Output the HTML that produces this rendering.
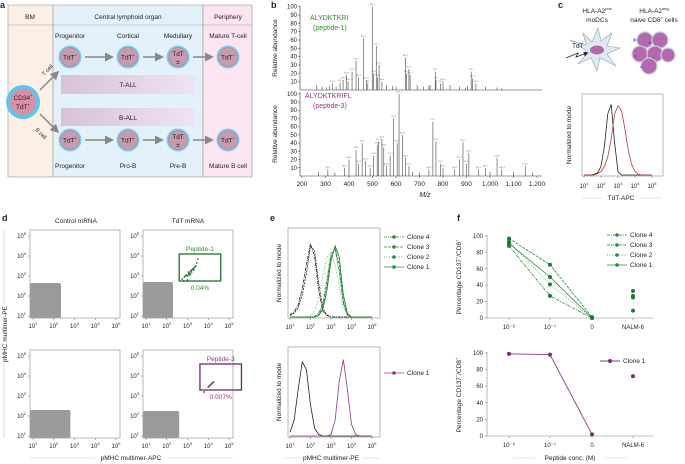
<!DOCTYPE html>
<html><head><meta charset="utf-8"><style>
html,body{margin:0;padding:0;background:#fff;}
svg{display:block;font-family:"Liberation Sans",Arial,sans-serif;}
</style></head><body>
<svg id="fig" width="685" height="464" viewBox="0 0 685 464" xmlns="http://www.w3.org/2000/svg">
<defs>
<linearGradient id="band" x1="0" x2="1" y1="0" y2="0"><stop offset="0" stop-color="#d6c2da"/><stop offset="1" stop-color="#eee4f2"/></linearGradient>
<marker id="ah" markerWidth="6" markerHeight="6" refX="4" refY="3" orient="auto"><path d="M0,0 L6,3 L0,6 z" fill="#888"/></marker>
<marker id="ahk" markerWidth="6" markerHeight="6" refX="4" refY="3" orient="auto"><path d="M0,0 L6,3 L0,6 z" fill="#222"/></marker>
</defs>

<!-- Panel a -->
<g font-size="6.5" fill="#222">
<text x="0" y="8" font-size="9" font-weight="bold">a</text>
<rect x="8" y="5" width="45" height="172" fill="#fcefe5" stroke="#999" stroke-width="0.6"/>
<rect x="53" y="5" width="150" height="172" fill="#e3f1fb" stroke="#999" stroke-width="0.6"/>
<rect x="203" y="5" width="49" height="172" fill="#fbe5f0" stroke="#999" stroke-width="0.6"/>
<line x1="8" y1="25" x2="252" y2="25" stroke="#999" stroke-width="0.6"/>
<text x="30" y="19" text-anchor="middle">BM</text>
<text x="128" y="19" text-anchor="middle">Central lymphoid organ</text>
<text x="228" y="19" text-anchor="middle">Periphery</text>
<rect x="61" y="75" width="134" height="19" fill="url(#band)"/>
<text x="128" y="87" text-anchor="middle">T-ALL</text>
<rect x="61" y="108" width="134" height="18" fill="url(#band)"/>
<text x="128" y="120" text-anchor="middle">B-ALL</text>
<g>
<circle cx="23" cy="102" r="17" fill="#5fc3ea"/><circle cx="23" cy="102" r="13" fill="#d98fa6"/>
<text x="23" y="100" text-anchor="middle">CD34<tspan font-size="4" dy="-3">+</tspan></text>
<text x="23" y="109" text-anchor="middle">TdT<tspan font-size="4" dy="-3">+</tspan></text>
</g>
<line x1="40" y1="90" x2="57" y2="73" stroke="#888" stroke-width="1.5" marker-end="url(#ah)"/>
<line x1="40" y1="114" x2="57" y2="131" stroke="#888" stroke-width="1.5" marker-end="url(#ah)"/>
<text x="44" y="76" font-size="5.5" transform="rotate(-45 44 76)">T cell</text>
<text x="35" y="130" font-size="5.5" transform="rotate(45 35 130)">B cell</text>
<g id="cells"></g>
</g>

<!-- Panel b -->
<g font-size="6" fill="#222">
<text x="271" y="8" font-size="9" font-weight="bold">b</text>
<text x="310" y="20" font-size="7" fill="#2e8b2e">ALYDKTKRI</text>
<text x="313" y="30" font-size="7" fill="#2e8b2e">(peptide-1)</text>
<text x="305" y="98" font-size="7" fill="#8a3a86">ALYDKTKRIFL</text>
<text x="313" y="108" font-size="7" fill="#8a3a86">(peptide-3)</text>
<text x="277" y="48" font-size="6.5" text-anchor="middle" transform="rotate(-90 277 48)">Relative abundance</text>
<text x="277" y="134" font-size="6.5" text-anchor="middle" transform="rotate(-90 277 134)">Relative abundance</text>
<text x="425" y="197" font-size="7" font-style="italic" text-anchor="middle">M/z</text>
<g id="specB"></g>
</g>

<!-- Panel c -->
<g font-size="6" fill="#222">
<text x="558" y="8" font-size="9" font-weight="bold">c</text>
<text x="597" y="13" text-anchor="middle" font-size="6.5">HLA-A2<tspan font-size="4" dy="-3">pos</tspan></text>
<text x="597" y="22" text-anchor="middle" font-size="6.5">moDCs</text>
<text x="654" y="13" text-anchor="middle" font-size="6.5">HLA-A2<tspan font-size="4" dy="-3">neg</tspan></text>
<text x="654" y="22" text-anchor="middle" font-size="6.5">naive CD8<tspan font-size="4" dy="-3">+</tspan><tspan dy="3"> cells</tspan></text>
<g>
<path d="M585,50 L570,40 L586,45 L583,33 L592,42 L598,28 L601,41 L612,33 L607,46 L620,48 L607,54 L616,66 L600,58 L597,71 L591,58 L578,64 L587,54 z" fill="#dde8f0" stroke="#8fa3b5" stroke-width="0.6"/>
<ellipse cx="597" cy="50" rx="7" ry="4.5" fill="#b267ae"/>
</g>
<text x="572" y="48" font-size="6.5">TdT</text>
<path d="M566,58 L578,53 L576,57 L587,53" stroke="#222" stroke-width="0.8" fill="none" marker-end="url(#ahk)"/>
<g fill="#b468b0" stroke="#c8d0d8" stroke-width="1.2">
<circle cx="645" cy="40" r="8"/><circle cx="660" cy="40" r="8"/><circle cx="640" cy="54" r="8"/><circle cx="655" cy="54" r="8"/><circle cx="668" cy="55" r="7"/><circle cx="649" cy="66" r="8"/>
</g>
<g stroke="#335a8a" stroke-width="0.8"><path d="M634,40 l3,0 m-3,-2 l0,4"/><path d="M648,43 l3,0"/><path d="M634,56 l3,0"/><path d="M652,58 l3,0"/><path d="M640,67 l3,0"/></g>
<text x="571" y="135" font-size="6.5" text-anchor="middle" transform="rotate(-90 571 135)">Normalized to mode</text>
<line x1="582" y1="198" x2="602" y2="198" stroke="#ccc" stroke-width="0.6"/><line x1="640" y1="198" x2="662" y2="198" stroke="#ccc" stroke-width="0.6"/>
<text x="621" y="200" font-size="6.5" text-anchor="middle">TdT-APC</text>
<g id="histC"></g>
</g>

<!-- Panel d -->
<g font-size="6" fill="#222">
<text x="2" y="221" font-size="9" font-weight="bold">d</text>
<text x="76" y="223" font-size="6.5" text-anchor="middle">Control mRNA</text>
<text x="188" y="223" font-size="6.5" text-anchor="middle">TdT mRNA</text>
<text x="7" y="334" font-size="6.5" text-anchor="middle" transform="rotate(-90 7 334)">pMHC multimer-PE</text>
<line x1="4" y1="230" x2="4" y2="304" stroke="#ccc" stroke-width="0.6"/><line x1="4" y1="364" x2="4" y2="438" stroke="#ccc" stroke-width="0.6"/>
<line x1="30" y1="458" x2="95" y2="458" stroke="#ccc" stroke-width="0.6"/><line x1="168" y1="458" x2="233" y2="458" stroke="#ccc" stroke-width="0.6"/>
<text x="131" y="460" font-size="6.5" text-anchor="middle">pMHC multimer-APC</text>
<g id="scatD"></g>
</g>

<!-- Panel e -->
<g font-size="6" fill="#222">
<text x="270" y="221" font-size="9" font-weight="bold">e</text>
<text x="281" y="273" font-size="6.5" text-anchor="middle" transform="rotate(-90 281 273)">Normalized to mode</text>
<text x="281" y="392" font-size="6.5" text-anchor="middle" transform="rotate(-90 281 392)">Normalized to mode</text>
<line x1="283" y1="458" x2="300" y2="458" stroke="#ccc" stroke-width="0.6"/><line x1="362" y1="458" x2="380" y2="458" stroke="#ccc" stroke-width="0.6"/>
<text x="331" y="460" font-size="6.5" text-anchor="middle">pMHC multimer-PE</text>
<g id="histE"></g>
</g>

<!-- Panel f -->
<g font-size="6" fill="#222">
<text x="457" y="221" font-size="9" font-weight="bold">f</text>
<text x="461" y="277" font-size="6.5" text-anchor="middle" transform="rotate(-90 461 277)">Percentage CD137<tspan font-size="4" dy="-3">+</tspan><tspan dy="3">/CD8</tspan><tspan font-size="4" dy="-3">+</tspan></text>
<text x="461" y="395" font-size="6.5" text-anchor="middle" transform="rotate(-90 461 395)">Percentage CD137<tspan font-size="4" dy="-3">+</tspan><tspan dy="3">/CD8</tspan><tspan font-size="4" dy="-3">+</tspan></text>
<line x1="513" y1="458" x2="535" y2="458" stroke="#ccc" stroke-width="0.6"/><line x1="605" y1="458" x2="627" y2="458" stroke="#ccc" stroke-width="0.6"/>
<text x="570" y="460" font-size="6.5" text-anchor="middle">Peptide conc. (M)</text>
<g id="lineF"></g>
</g>
</svg>

<script>
// ---------- data ----------
// Panel b mass spectra
const mzTop = [263,285,305,318,330,345,362,375,390,396,413,430,440,461,475,480,499,505,516,522,528,540,560,585,600,640,645,655,660,690,717,740,745,767,770,790,800,830,870,895,905,920,925,940,980,1030,1050];
const intTop = [6,4,3,5,8,4,9,12,18,10,22,35,15,62,12,8,100,20,53,15,30,10,6,5,4,39,20,25,18,6,4,5,6,22,12,8,10,6,4,3,5,22,14,8,4,3,2];
const mzBot = [270,310,340,380,400,430,440,456,470,490,505,520,525,540,548,560,575,590,605,613,628,640,655,670,700,740,757,770,790,800,850,870,885,900,910,950,980,1000,1030,1050,1100,1150,1180];
const intBot = [5,8,4,10,20,32,15,40,18,10,25,38,42,45,35,12,25,70,40,100,50,22,12,5,4,8,66,42,15,10,8,20,41,15,28,8,10,5,22,8,5,12,4];
const mzTicks = [200,300,400,500,600,700,800,900,1000,1100,1200];
const mzTickLabels = ["200","300","400","500","600","700","800","900","1,000","1,100","1,200"];
const abundTicks = [10,20,30,40,50,60,70,80,90,100];
// Histogram x grid (log10)
const logGrid = [1.0,1.2,1.4,1.6,1.8,2.0,2.2,2.4,2.6,2.8,3.0,3.2,3.4,3.6,3.8,4.0,4.2,4.4,4.6,4.8,5.0];
const logTicks = [1,2,3,4,5];
// Panel c
const cBlack = [0,0,0,1,3,12,40,85,98,45,5,0,0,0,0,0,0,0,0,0,0];
const cRed   = [0,0,0,0,2,5,12,25,50,85,96,90,65,35,15,5,1,0,0,0,0];
// Panel e top
const eBlackA = [2,5,12,30,58,95,88,45,12,3,0,0,0,0,0,0,0,0,0,0,0];
const eBlackB = [3,7,16,38,70,98,80,35,8,2,0,0,0,0,0,0,0,0,0,0,0];
const eClone1 = [0,0,0,0,0,0,0,2,10,35,75,95,80,30,5,0,0,0,0,0,0];
const eClone2 = [0,0,0,0,0,2,8,25,55,80,85,70,40,12,2,0,0,0,0,0,0];
const eClone3 = [0,0,0,0,0,0,0,3,14,42,80,92,70,22,3,0,0,0,0,0,0];
const eClone4 = [0,0,0,0,0,0,1,5,18,50,85,90,60,18,2,0,0,0,0,0,0];
// Panel e bottom
const eBlackBot = [5,20,60,95,85,40,10,2,0,0,0,0,0,0,0,0,0,0,0,0,0];
const ePurple   = [0,0,0,0,0,0,0,0,0,0,2,20,70,98,60,15,2,0,0,0,0];
// Panel d gated events (log10 APC, log10 PE)
const pep1X = [2.75,2.85,2.9,2.95,3.0,3.05,3.05,3.1,3.1,3.15,3.15,3.2,3.2,3.25,3.3,3.3,3.35,3.4,3.45,2.8,3.0,3.5];
const pep1Y = [2.85,2.95,3.0,3.05,3.0,3.1,3.2,3.15,3.05,3.25,3.1,3.3,3.2,3.35,3.3,3.4,3.45,3.5,3.65,2.75,2.8,3.85];
const pep3X = [3.8,4.0,4.05,4.1,4.15,4.2,4.25];
const pep3Y = [3.2,3.45,3.5,3.55,3.6,3.65,3.7];
const cloudTL = [1.0,2.35,1.0,2.65]; // xmin,xmax,ymin,ymax (log10)
const cloudTR = [1.0,2.3,1.0,2.7];
const cloudBL = [1.0,2.8,1.0,2.3];
const cloudBR = [1.0,2.6,1.0,2.25];
// Panel f
const fCats = ["10\u207b\u2076","10\u207b\u2077","0","NALM-6"];
const fClone1 = [91,50,0];
const fClone2 = [93,41,0];
const fClone3 = [97,65,1];
const fClone4 = [88,27,0];
const fNalmTop = [33,27,25,9];
const fBotClone1 = [99,98,2];
const fNalmBot = [72];
const fTicks = [0,20,40,60,80,100];

const NS = "http://www.w3.org/2000/svg";
function mk(parent, tag, attrs, txt){const e=document.createElementNS(NS,tag);for(const k in attrs)e.setAttribute(k,attrs[k]);if(txt!==undefined)e.textContent=txt;parent.appendChild(e);return e;}

// ---------- panel a cells ----------
(function(){
const g=document.getElementById('cells');
const xs=[70,128,178,228];
const tl=["Progenitor","Cortical","Medullary","Mature T-cell"];
const bl=["Progenitor","Pro-B","Pre-B","Mature B cell"];
[[57,tl,38],[140,bl,168]].forEach(([cy,labels,ly],r)=>{
 xs.forEach((cx,i)=>{
  const c=mk(g,'g',{});
  
  
  mk(c,'circle',{cx:cx,cy:cy,r:11.5,fill:'#7fcbeb'});
  mk(c,'circle',{cx:cx,cy:cy,r:9.5,fill:'#c89aad',stroke:'#9a6a80','stroke-width':0.4});
  if(i===2){mk(c,'text',{x:cx,y:cy-1,'text-anchor':'middle','font-size':6.5},'TdT');mk(c,'text',{x:cx,y:cy+7,'text-anchor':'middle','font-size':6.5},'±');}
  else {const t=mk(c,'text',{x:cx,y:cy+2.5,'text-anchor':'middle','font-size':6.5},'TdT');mk(t,'tspan',{'font-size':4,dy:-3},i===3?'−':'+');}
  const lt=mk(g,'text',{x:cx,y:ly,'text-anchor':'middle','font-size':6.5},labels[i]);
  
  
  if(i<3) mk(g,'line',{x1:cx+15,y1:cy,x2:xs[i+1]-17,y2:cy,stroke:'#888','stroke-width':1.5,'marker-end':'url(#ah)'});
 });
});
})();

// ---------- panel b ----------
(function(){
const g=document.getElementById('specB');
const mzX=m=>302+(m-200)*0.235;
const plots=[{mz:mzTop,v:intTop,y0:90,s:0.833,name:'spectrum-peptide-1'},{mz:mzBot,v:intBot,y0:176,s:0.822,name:'spectrum-peptide-3'}];
plots.forEach(p=>{
 const yv=v=>p.y0-v*p.s;
 mk(g,'line',{x1:300,y1:p.y0-84,x2:300,y2:p.y0,stroke:'#333','stroke-width':0.6});
 mk(g,'line',{x1:300,y1:p.y0,x2:542,y2:p.y0,stroke:'#333','stroke-width':0.6});
 abundTicks.forEach(t=>{mk(g,'line',{x1:298,y1:yv(t),x2:300,y2:yv(t),stroke:'#333','stroke-width':0.5});mk(g,'text',{x:297,y:yv(t)+2,'text-anchor':'end','font-size':6},t);});
 const sg=mk(g,'g',{});
 
 
 p.mz.forEach((m,i)=>{
  const pk=mk(sg,'line',{x1:mzX(m),y1:p.y0,x2:mzX(m),y2:yv(p.v[i]),stroke:'#444','stroke-width':0.6});
  
  
  if(p.v[i]>=8) mk(sg,'text',{x:mzX(m),y:yv(p.v[i])-1.5,'text-anchor':'middle','font-size':2,fill:'#666'},m+'.1');
 });
});
mzTicks.forEach((t,i)=>{
 mk(g,'line',{x1:mzX(t),y1:176,x2:mzX(t),y2:178,stroke:'#333','stroke-width':0.5});
 mk(g,'text',{x:mzX(t),y:186,'text-anchor':'middle','font-size':6.5},mzTickLabels[i]);
});
})();

// ---------- log axis helper for histograms ----------
function histBox(g,x0,x1,y0,y1,l1,l5,ticksY,name){
 mk(g,'rect',{x:x0,y:y0,width:x1-x0,height:y1-y0,fill:'none',stroke:'#888','stroke-width':0.6});
 const lx=l=>l1+(l-1)*(l5-l1)/4;
 logTicks.forEach(t=>{
  mk(g,'line',{x1:lx(t),y1:y1,x2:lx(t),y2:y1+2,stroke:'#666','stroke-width':0.5});
  const tx=mk(g,'text',{x:lx(t),y:ticksY,'text-anchor':'middle','font-size':6},'10');
  mk(tx,'tspan',{'font-size':4,dy:-3},t);
 });
 return lx;
}
function hist(g,lx,y1,h,vals,color,dash,name,w){
 const pts=logGrid.map((l,i)=>lx(l).toFixed(1)+','+(y1-1-vals[i]*h/100).toFixed(1)).join(' ');
 const p=mk(g,'polyline',{points:pts,fill:'none',stroke:color,'stroke-width':w||0.8});
 if(dash) p.setAttribute('stroke-dasharray',dash);
 
 
}

// ---------- panel c ----------
(function(){
const g=document.getElementById('histC');
const lx=histBox(g,582,663,94,176,584,652,188);
hist(g,lx,176,72,cBlack,'#222',null,'c-control-histogram');
hist(g,lx,176,72,cRed,'#b33a3a',null,'c-tdt-histogram');
})();

// ---------- panel e ----------
(function(){
const g=document.getElementById('histE');
let lx=histBox(g,288,380,228,318,290,372,329);
hist(g,lx,318,75,eBlackA,'#222','2,1','e-control-1');
hist(g,lx,318,75,eBlackB,'#222','3,1,1,1','e-control-2');
hist(g,lx,318,75,eClone4,'#2a8a3a','3,1,1,1','e-clone-4');
hist(g,lx,318,75,eClone3,'#2a8a3a','3,1','e-clone-3');
hist(g,lx,318,75,eClone2,'#5cae5c','1,1.5','e-clone-2');
hist(g,lx,318,75,eClone1,'#1e7a30',null,'e-clone-1');
lx=histBox(g,288,380,347,437,290,372,448);
hist(g,lx,437,78,eBlackBot,'#222',null,'e-control-bottom');
hist(g,lx,437,78,ePurple,'#8a3a86',null,'e-clone-1-bottom');
const leg=[["Clone 4","3,1,1,1"],["Clone 3","3,1"],["Clone 2","1,1.5"],["Clone 1",null]];
leg.forEach((l,i)=>{
 const y=237+i*10;
 const e=mk(g,'g',{});
 
 
 const ln=mk(e,'line',{x1:384,y1:y,x2:404,y2:y,stroke:'#2a8a3a','stroke-width':0.8});
 if(l[1]) ln.setAttribute('stroke-dasharray',l[1]);
 mk(e,'circle',{cx:394,cy:y,r:1.8,fill:'#2a8a3a'});
 mk(e,'text',{x:407,y:y+2.2,'font-size':6.5},l[0]);
});
const e=mk(g,'g',{});


mk(e,'line',{x1:384,y1:373,x2:404,y2:373,stroke:'#8a3a86','stroke-width':0.8});
mk(e,'circle',{cx:394,cy:373,r:1.8,fill:'#8a3a86'});
mk(e,'text',{x:407,y:375.2,'font-size':6.5},'Clone 1');
})();

// ---------- panel d ----------
(function(){
const g=document.getElementById('scatD');
const panels=[
 {x0:30,y0:230,cloud:cloudTL,name:'d-control-top'},
 {x0:143,y0:230,cloud:cloudTR,name:'d-tdt-top',gx:pep1X,gy:pep1Y,col:'#1f6f2f',gate:[2.6,4.6,2.75,4.1],glabel:'Peptide-1',gpct:'0.04%',lcol:'#2e8b2e'},
 {x0:30,y0:350,cloud:cloudBL,name:'d-control-bottom'},
 {x0:143,y0:350,cloud:cloudBR,name:'d-tdt-bottom',gx:pep3X,gy:pep3Y,col:'#6a2a6a',gate:[3.6,5.6,3.3,4.6],glabel:'Peptide-3',gpct:'0.007%',lcol:'#8a3a86'}
];
panels.forEach(p=>{
 const W=90,H=88;
 const lx=l=>p.x0+3+(l-1)*20.75;
 const ly=l=>p.y0+H-2-(l-1)*20;
 const pg=mk(g,'g',{});
 
 
 mk(pg,'rect',{x:p.x0,y:p.y0,width:W,height:H,fill:'none',stroke:'#888','stroke-width':0.6});
 logTicks.forEach(t=>{
  mk(pg,'line',{x1:lx(t),y1:p.y0+H,x2:lx(t),y2:p.y0+H+2,stroke:'#666','stroke-width':0.5});
  const tx=mk(pg,'text',{x:lx(t),y:p.y0+H+10,'text-anchor':'middle','font-size':6},'10');mk(tx,'tspan',{'font-size':4,dy:-3},t);
  mk(pg,'line',{x1:p.x0-2,y1:ly(t),x2:p.x0,y2:ly(t),stroke:'#666','stroke-width':0.5});
  const ty=mk(pg,'text',{x:p.x0-4,y:ly(t)+2,'text-anchor':'end','font-size':6},'10');mk(ty,'tspan',{'font-size':4,dy:-3},t);
 });
 const c=p.cloud;
 const cl=mk(pg,'rect',{x:p.x0,y:ly(c[3]),width:lx(c[1])-p.x0,height:p.y0+H-ly(c[3]),fill:'#9a9a9a',rx:2});
 
 
 if(p.gx){
  const gr=mk(pg,'rect',{x:lx(p.gate[0]),y:ly(p.gate[3]),width:lx(p.gate[1])-lx(p.gate[0]),height:ly(p.gate[2])-ly(p.gate[3]),fill:'none',stroke:p.col,'stroke-width':1.3});
  
  
  const cx=(lx(p.gate[0])+lx(p.gate[1]))/2;
  mk(pg,'text',{x:cx,y:ly(p.gate[3])-3,'text-anchor':'middle','font-size':6.5,fill:p.lcol},p.glabel);
  mk(pg,'text',{x:cx,y:ly(p.gate[2])+9,'text-anchor':'middle','font-size':6.5,fill:p.lcol},p.gpct);
  p.gx.forEach((v,i)=>{const d=mk(pg,'circle',{cx:lx(v),cy:ly(p.gy[i]),r:0.9,fill:p.col});
   
   });
 }
});
})();

// ---------- panel f ----------
(function(){
const g=document.getElementById('lineF');
const cx=[509,550,592,633];
const plots=[{y0:318,y100:236,name:'f-top'},{y0:436,y100:353,name:'f-bottom'}];
plots.forEach(p=>{
 const yv=v=>p.y0-(p.y0-p.y100)*v/100;
 mk(g,'line',{x1:487,y1:p.y100-1,x2:487,y2:p.y0,stroke:'#888','stroke-width':0.6});
 mk(g,'line',{x1:487,y1:p.y0,x2:653,y2:p.y0,stroke:'#888','stroke-width':0.6});
 fTicks.forEach(t=>{mk(g,'line',{x1:485,y1:yv(t),x2:487,y2:yv(t),stroke:'#666','stroke-width':0.5});mk(g,'text',{x:483,y:yv(t)+2,'text-anchor':'end','font-size':6},t);});
 fCats.forEach((c,i)=>{mk(g,'line',{x1:cx[i],y1:p.y0,x2:cx[i],y2:p.y0+2,stroke:'#666','stroke-width':0.5});mk(g,'text',{x:cx[i],y:p.y0+11,'text-anchor':'middle','font-size':6},c);});
 p.yv=yv;
});
const ytop=plots[0].yv, ybot=plots[1].yv;
const series=[[fClone4,'3,1,1,1','clone-4'],[fClone3,'3,1','clone-3'],[fClone2,'1,1.5','clone-2'],[fClone1,null,'clone-1']];
series.forEach(s=>{
 const ln=mk(g,'polyline',{points:s[0].map((v,i)=>cx[i]+','+ytop(v)).join(' '),fill:'none',stroke:s[2]==='clone-2'?'#6ab86a':'#2a8a3a','stroke-width':0.8});
 if(s[1]) ln.setAttribute('stroke-dasharray',s[1]);
 
 
 s[0].forEach((v,i)=>{const d=mk(g,'circle',{cx:cx[i],cy:ytop(v),r:2,fill:'#1f7a2f'});
  
  });
});
fNalmTop.forEach(v=>{const d=mk(g,'circle',{cx:cx[3],cy:ytop(v),r:2,fill:'#1f7a2f'});
 
 });
const bl=mk(g,'polyline',{points:fBotClone1.map((v,i)=>cx[i]+','+ybot(v)).join(' '),fill:'none',stroke:'#8a3a86','stroke-width':0.9});


fBotClone1.forEach((v,i)=>{const d=mk(g,'circle',{cx:cx[i],cy:ybot(v),r:2,fill:'#7a2a76'});
 
 });
fNalmBot.forEach(v=>{const d=mk(g,'circle',{cx:cx[3],cy:ybot(v),r:2,fill:'#7a2a76'});
 
 });
const leg=[["Clone 4","3,1,1,1"],["Clone 3","3,1"],["Clone 2","1,1.5"],["Clone 1",null]];
leg.forEach((l,i)=>{
 const y=235+i*10;
 const e=mk(g,'g',{});
 
 
 const ln=mk(e,'line',{x1:607,y1:y,x2:627,y2:y,stroke:'#2a8a3a','stroke-width':0.8});
 if(l[1]) ln.setAttribute('stroke-dasharray',l[1]);
 mk(e,'circle',{cx:617,cy:y,r:1.8,fill:'#2a8a3a'});
 mk(e,'text',{x:630,y:y+2.2,'font-size':6.5},l[0]);
});
const e=mk(g,'g',{});


mk(e,'line',{x1:600,y1:361,x2:620,y2:361,stroke:'#8a3a86','stroke-width':0.9});
mk(e,'circle',{cx:610,cy:361,r:2,fill:'#7a2a76'});
mk(e,'text',{x:623,y:363.2,'font-size':6.5},'Clone 1');
})();
</script>
</body></html>
